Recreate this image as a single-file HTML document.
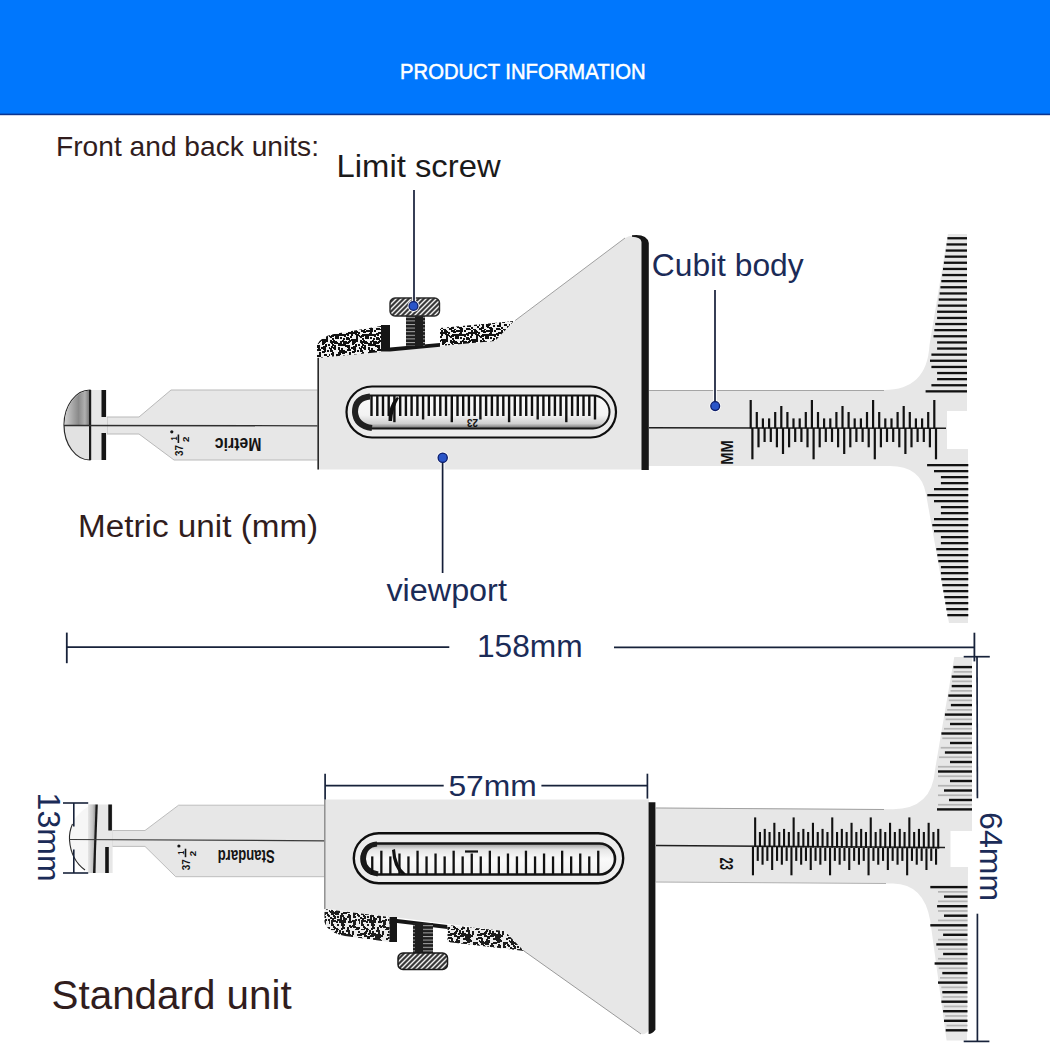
<!DOCTYPE html><html><head><meta charset="utf-8"><title>Product Information</title><style>html,body{margin:0;padding:0;background:#fff;width:1050px;height:1050px;overflow:hidden}svg{display:block}text{font-family:"Liberation Sans",sans-serif}</style></head><body>
<svg width="1050" height="1050" viewBox="0 0 1050 1050">
<defs>
<pattern id="knurl" width="30" height="30" patternUnits="userSpaceOnUse"><rect width="30" height="30" fill="#f0f0f0"/><rect x="1" y="0" width="2" height="2" fill="#111"/><rect x="3" y="0" width="2" height="2" fill="#111"/><rect x="6" y="0" width="2" height="2" fill="#111"/><rect x="8" y="0" width="2" height="2" fill="#111"/><rect x="10" y="0" width="2" height="2" fill="#111"/><rect x="11" y="0" width="2" height="2" fill="#111"/><rect x="14" y="0" width="2" height="2" fill="#111"/><rect x="21" y="0" width="2" height="2" fill="#111"/><rect x="24" y="0" width="2" height="2" fill="#111"/><rect x="25" y="0" width="2" height="2" fill="#111"/><rect x="3" y="1" width="2" height="2" fill="#111"/><rect x="4" y="1" width="2" height="2" fill="#111"/><rect x="21" y="1" width="2" height="2" fill="#111"/><rect x="24" y="1" width="2" height="2" fill="#111"/><rect x="26" y="1" width="2" height="2" fill="#111"/><rect x="10" y="2" width="2" height="2" fill="#111"/><rect x="18" y="2" width="2" height="2" fill="#111"/><rect x="20" y="2" width="2" height="2" fill="#111"/><rect x="21" y="2" width="2" height="2" fill="#111"/><rect x="22" y="2" width="2" height="2" fill="#111"/><rect x="24" y="2" width="2" height="2" fill="#111"/><rect x="28" y="2" width="2" height="2" fill="#111"/><rect x="9" y="3" width="2" height="2" fill="#111"/><rect x="10" y="3" width="2" height="2" fill="#111"/><rect x="16" y="3" width="2" height="2" fill="#111"/><rect x="25" y="3" width="2" height="2" fill="#111"/><rect x="2" y="4" width="2" height="2" fill="#111"/><rect x="4" y="4" width="2" height="2" fill="#111"/><rect x="5" y="4" width="2" height="2" fill="#111"/><rect x="7" y="4" width="2" height="2" fill="#111"/><rect x="9" y="4" width="2" height="2" fill="#111"/><rect x="10" y="4" width="2" height="2" fill="#111"/><rect x="11" y="4" width="2" height="2" fill="#111"/><rect x="12" y="4" width="2" height="2" fill="#111"/><rect x="14" y="4" width="2" height="2" fill="#111"/><rect x="17" y="4" width="2" height="2" fill="#111"/><rect x="21" y="4" width="2" height="2" fill="#111"/><rect x="26" y="4" width="2" height="2" fill="#111"/><rect x="27" y="4" width="2" height="2" fill="#111"/><rect x="1" y="5" width="2" height="2" fill="#111"/><rect x="2" y="5" width="2" height="2" fill="#111"/><rect x="5" y="5" width="2" height="2" fill="#111"/><rect x="7" y="5" width="2" height="2" fill="#111"/><rect x="14" y="5" width="2" height="2" fill="#111"/><rect x="29" y="5" width="2" height="2" fill="#111"/><rect x="0" y="6" width="2" height="2" fill="#111"/><rect x="20" y="6" width="2" height="2" fill="#111"/><rect x="26" y="6" width="2" height="2" fill="#111"/><rect x="5" y="7" width="2" height="2" fill="#111"/><rect x="6" y="7" width="2" height="2" fill="#111"/><rect x="7" y="7" width="2" height="2" fill="#111"/><rect x="10" y="7" width="2" height="2" fill="#111"/><rect x="16" y="7" width="2" height="2" fill="#111"/><rect x="17" y="7" width="2" height="2" fill="#111"/><rect x="2" y="8" width="2" height="2" fill="#111"/><rect x="13" y="8" width="2" height="2" fill="#111"/><rect x="16" y="8" width="2" height="2" fill="#111"/><rect x="18" y="8" width="2" height="2" fill="#111"/><rect x="26" y="8" width="2" height="2" fill="#111"/><rect x="21" y="9" width="2" height="2" fill="#111"/><rect x="22" y="9" width="2" height="2" fill="#111"/><rect x="24" y="9" width="2" height="2" fill="#111"/><rect x="26" y="9" width="2" height="2" fill="#111"/><rect x="0" y="10" width="2" height="2" fill="#111"/><rect x="3" y="10" width="2" height="2" fill="#111"/><rect x="12" y="10" width="2" height="2" fill="#111"/><rect x="19" y="10" width="2" height="2" fill="#111"/><rect x="22" y="10" width="2" height="2" fill="#111"/><rect x="26" y="10" width="2" height="2" fill="#111"/><rect x="0" y="11" width="2" height="2" fill="#111"/><rect x="2" y="11" width="2" height="2" fill="#111"/><rect x="5" y="11" width="2" height="2" fill="#111"/><rect x="10" y="11" width="2" height="2" fill="#111"/><rect x="14" y="11" width="2" height="2" fill="#111"/><rect x="15" y="11" width="2" height="2" fill="#111"/><rect x="18" y="11" width="2" height="2" fill="#111"/><rect x="22" y="11" width="2" height="2" fill="#111"/><rect x="24" y="11" width="2" height="2" fill="#111"/><rect x="1" y="12" width="2" height="2" fill="#111"/><rect x="4" y="12" width="2" height="2" fill="#111"/><rect x="5" y="12" width="2" height="2" fill="#111"/><rect x="6" y="12" width="2" height="2" fill="#111"/><rect x="13" y="12" width="2" height="2" fill="#111"/><rect x="15" y="12" width="2" height="2" fill="#111"/><rect x="17" y="12" width="2" height="2" fill="#111"/><rect x="23" y="12" width="2" height="2" fill="#111"/><rect x="8" y="13" width="2" height="2" fill="#111"/><rect x="9" y="13" width="2" height="2" fill="#111"/><rect x="10" y="13" width="2" height="2" fill="#111"/><rect x="13" y="13" width="2" height="2" fill="#111"/><rect x="14" y="13" width="2" height="2" fill="#111"/><rect x="22" y="13" width="2" height="2" fill="#111"/><rect x="2" y="14" width="2" height="2" fill="#111"/><rect x="8" y="14" width="2" height="2" fill="#111"/><rect x="10" y="14" width="2" height="2" fill="#111"/><rect x="12" y="14" width="2" height="2" fill="#111"/><rect x="13" y="14" width="2" height="2" fill="#111"/><rect x="25" y="14" width="2" height="2" fill="#111"/><rect x="28" y="14" width="2" height="2" fill="#111"/><rect x="4" y="15" width="2" height="2" fill="#111"/><rect x="15" y="15" width="2" height="2" fill="#111"/><rect x="16" y="15" width="2" height="2" fill="#111"/><rect x="18" y="15" width="2" height="2" fill="#111"/><rect x="25" y="15" width="2" height="2" fill="#111"/><rect x="1" y="16" width="2" height="2" fill="#111"/><rect x="4" y="16" width="2" height="2" fill="#111"/><rect x="17" y="16" width="2" height="2" fill="#111"/><rect x="18" y="16" width="2" height="2" fill="#111"/><rect x="23" y="16" width="2" height="2" fill="#111"/><rect x="24" y="16" width="2" height="2" fill="#111"/><rect x="3" y="17" width="2" height="2" fill="#111"/><rect x="8" y="17" width="2" height="2" fill="#111"/><rect x="18" y="17" width="2" height="2" fill="#111"/><rect x="21" y="17" width="2" height="2" fill="#111"/><rect x="29" y="17" width="2" height="2" fill="#111"/><rect x="0" y="18" width="2" height="2" fill="#111"/><rect x="4" y="18" width="2" height="2" fill="#111"/><rect x="8" y="18" width="2" height="2" fill="#111"/><rect x="11" y="18" width="2" height="2" fill="#111"/><rect x="23" y="18" width="2" height="2" fill="#111"/><rect x="24" y="18" width="2" height="2" fill="#111"/><rect x="11" y="19" width="2" height="2" fill="#111"/><rect x="17" y="19" width="2" height="2" fill="#111"/><rect x="19" y="19" width="2" height="2" fill="#111"/><rect x="0" y="20" width="2" height="2" fill="#111"/><rect x="1" y="20" width="2" height="2" fill="#111"/><rect x="9" y="20" width="2" height="2" fill="#111"/><rect x="11" y="20" width="2" height="2" fill="#111"/><rect x="13" y="20" width="2" height="2" fill="#111"/><rect x="24" y="20" width="2" height="2" fill="#111"/><rect x="27" y="20" width="2" height="2" fill="#111"/><rect x="9" y="21" width="2" height="2" fill="#111"/><rect x="10" y="21" width="2" height="2" fill="#111"/><rect x="15" y="21" width="2" height="2" fill="#111"/><rect x="22" y="21" width="2" height="2" fill="#111"/><rect x="23" y="21" width="2" height="2" fill="#111"/><rect x="2" y="22" width="2" height="2" fill="#111"/><rect x="8" y="22" width="2" height="2" fill="#111"/><rect x="12" y="22" width="2" height="2" fill="#111"/><rect x="13" y="22" width="2" height="2" fill="#111"/><rect x="19" y="22" width="2" height="2" fill="#111"/><rect x="1" y="23" width="2" height="2" fill="#111"/><rect x="9" y="23" width="2" height="2" fill="#111"/><rect x="2" y="24" width="2" height="2" fill="#111"/><rect x="6" y="24" width="2" height="2" fill="#111"/><rect x="7" y="24" width="2" height="2" fill="#111"/><rect x="8" y="24" width="2" height="2" fill="#111"/><rect x="19" y="24" width="2" height="2" fill="#111"/><rect x="24" y="24" width="2" height="2" fill="#111"/><rect x="25" y="24" width="2" height="2" fill="#111"/><rect x="29" y="24" width="2" height="2" fill="#111"/><rect x="6" y="25" width="2" height="2" fill="#111"/><rect x="13" y="25" width="2" height="2" fill="#111"/><rect x="17" y="25" width="2" height="2" fill="#111"/><rect x="18" y="25" width="2" height="2" fill="#111"/><rect x="19" y="25" width="2" height="2" fill="#111"/><rect x="2" y="26" width="2" height="2" fill="#111"/><rect x="7" y="26" width="2" height="2" fill="#111"/><rect x="27" y="26" width="2" height="2" fill="#111"/><rect x="1" y="27" width="2" height="2" fill="#111"/><rect x="2" y="27" width="2" height="2" fill="#111"/><rect x="9" y="27" width="2" height="2" fill="#111"/><rect x="10" y="27" width="2" height="2" fill="#111"/><rect x="21" y="27" width="2" height="2" fill="#111"/><rect x="0" y="28" width="2" height="2" fill="#111"/><rect x="11" y="28" width="2" height="2" fill="#111"/><rect x="16" y="28" width="2" height="2" fill="#111"/><rect x="18" y="28" width="2" height="2" fill="#111"/><rect x="29" y="28" width="2" height="2" fill="#111"/><rect x="4" y="29" width="2" height="2" fill="#111"/><rect x="10" y="29" width="2" height="2" fill="#111"/><rect x="18" y="29" width="2" height="2" fill="#111"/><rect x="19" y="29" width="2" height="2" fill="#111"/><rect x="23" y="29" width="2" height="2" fill="#111"/><rect x="24" y="29" width="2" height="2" fill="#111"/></pattern>
<pattern id="knurlB" width="30" height="30" patternUnits="userSpaceOnUse"><rect width="30" height="30" fill="#ececec"/><rect x="6" y="0" width="2" height="2" fill="#1c1c1c"/><rect x="9" y="0" width="2" height="2" fill="#1c1c1c"/><rect x="16" y="0" width="2" height="2" fill="#1c1c1c"/><rect x="18" y="0" width="2" height="2" fill="#1c1c1c"/><rect x="5" y="1" width="2" height="2" fill="#1c1c1c"/><rect x="12" y="1" width="2" height="2" fill="#1c1c1c"/><rect x="22" y="1" width="2" height="2" fill="#1c1c1c"/><rect x="28" y="1" width="2" height="2" fill="#1c1c1c"/><rect x="4" y="2" width="2" height="2" fill="#1c1c1c"/><rect x="5" y="2" width="2" height="2" fill="#1c1c1c"/><rect x="9" y="2" width="2" height="2" fill="#1c1c1c"/><rect x="18" y="2" width="2" height="2" fill="#1c1c1c"/><rect x="0" y="3" width="2" height="2" fill="#1c1c1c"/><rect x="2" y="3" width="2" height="2" fill="#1c1c1c"/><rect x="4" y="3" width="2" height="2" fill="#1c1c1c"/><rect x="8" y="3" width="2" height="2" fill="#1c1c1c"/><rect x="11" y="3" width="2" height="2" fill="#1c1c1c"/><rect x="12" y="3" width="2" height="2" fill="#1c1c1c"/><rect x="14" y="3" width="2" height="2" fill="#1c1c1c"/><rect x="18" y="3" width="2" height="2" fill="#1c1c1c"/><rect x="22" y="3" width="2" height="2" fill="#1c1c1c"/><rect x="0" y="4" width="2" height="2" fill="#1c1c1c"/><rect x="14" y="4" width="2" height="2" fill="#1c1c1c"/><rect x="16" y="4" width="2" height="2" fill="#1c1c1c"/><rect x="19" y="4" width="2" height="2" fill="#1c1c1c"/><rect x="27" y="4" width="2" height="2" fill="#1c1c1c"/><rect x="29" y="4" width="2" height="2" fill="#1c1c1c"/><rect x="4" y="5" width="2" height="2" fill="#1c1c1c"/><rect x="5" y="5" width="2" height="2" fill="#1c1c1c"/><rect x="10" y="5" width="2" height="2" fill="#1c1c1c"/><rect x="12" y="5" width="2" height="2" fill="#1c1c1c"/><rect x="17" y="5" width="2" height="2" fill="#1c1c1c"/><rect x="18" y="5" width="2" height="2" fill="#1c1c1c"/><rect x="21" y="5" width="2" height="2" fill="#1c1c1c"/><rect x="7" y="6" width="2" height="2" fill="#1c1c1c"/><rect x="8" y="6" width="2" height="2" fill="#1c1c1c"/><rect x="15" y="6" width="2" height="2" fill="#1c1c1c"/><rect x="16" y="6" width="2" height="2" fill="#1c1c1c"/><rect x="17" y="6" width="2" height="2" fill="#1c1c1c"/><rect x="19" y="6" width="2" height="2" fill="#1c1c1c"/><rect x="0" y="7" width="2" height="2" fill="#1c1c1c"/><rect x="7" y="7" width="2" height="2" fill="#1c1c1c"/><rect x="8" y="7" width="2" height="2" fill="#1c1c1c"/><rect x="28" y="7" width="2" height="2" fill="#1c1c1c"/><rect x="1" y="8" width="2" height="2" fill="#1c1c1c"/><rect x="13" y="8" width="2" height="2" fill="#1c1c1c"/><rect x="15" y="8" width="2" height="2" fill="#1c1c1c"/><rect x="17" y="8" width="2" height="2" fill="#1c1c1c"/><rect x="18" y="8" width="2" height="2" fill="#1c1c1c"/><rect x="26" y="8" width="2" height="2" fill="#1c1c1c"/><rect x="1" y="9" width="2" height="2" fill="#1c1c1c"/><rect x="6" y="9" width="2" height="2" fill="#1c1c1c"/><rect x="16" y="9" width="2" height="2" fill="#1c1c1c"/><rect x="19" y="9" width="2" height="2" fill="#1c1c1c"/><rect x="8" y="10" width="2" height="2" fill="#1c1c1c"/><rect x="18" y="10" width="2" height="2" fill="#1c1c1c"/><rect x="20" y="10" width="2" height="2" fill="#1c1c1c"/><rect x="29" y="10" width="2" height="2" fill="#1c1c1c"/><rect x="0" y="11" width="2" height="2" fill="#1c1c1c"/><rect x="1" y="11" width="2" height="2" fill="#1c1c1c"/><rect x="2" y="11" width="2" height="2" fill="#1c1c1c"/><rect x="5" y="11" width="2" height="2" fill="#1c1c1c"/><rect x="6" y="11" width="2" height="2" fill="#1c1c1c"/><rect x="8" y="11" width="2" height="2" fill="#1c1c1c"/><rect x="17" y="11" width="2" height="2" fill="#1c1c1c"/><rect x="18" y="11" width="2" height="2" fill="#1c1c1c"/><rect x="4" y="12" width="2" height="2" fill="#1c1c1c"/><rect x="6" y="12" width="2" height="2" fill="#1c1c1c"/><rect x="13" y="12" width="2" height="2" fill="#1c1c1c"/><rect x="15" y="12" width="2" height="2" fill="#1c1c1c"/><rect x="23" y="12" width="2" height="2" fill="#1c1c1c"/><rect x="25" y="12" width="2" height="2" fill="#1c1c1c"/><rect x="26" y="12" width="2" height="2" fill="#1c1c1c"/><rect x="1" y="13" width="2" height="2" fill="#1c1c1c"/><rect x="2" y="13" width="2" height="2" fill="#1c1c1c"/><rect x="5" y="13" width="2" height="2" fill="#1c1c1c"/><rect x="7" y="13" width="2" height="2" fill="#1c1c1c"/><rect x="11" y="13" width="2" height="2" fill="#1c1c1c"/><rect x="24" y="13" width="2" height="2" fill="#1c1c1c"/><rect x="18" y="14" width="2" height="2" fill="#1c1c1c"/><rect x="23" y="14" width="2" height="2" fill="#1c1c1c"/><rect x="27" y="14" width="2" height="2" fill="#1c1c1c"/><rect x="3" y="15" width="2" height="2" fill="#1c1c1c"/><rect x="10" y="15" width="2" height="2" fill="#1c1c1c"/><rect x="12" y="15" width="2" height="2" fill="#1c1c1c"/><rect x="19" y="15" width="2" height="2" fill="#1c1c1c"/><rect x="23" y="15" width="2" height="2" fill="#1c1c1c"/><rect x="28" y="15" width="2" height="2" fill="#1c1c1c"/><rect x="4" y="16" width="2" height="2" fill="#1c1c1c"/><rect x="7" y="16" width="2" height="2" fill="#1c1c1c"/><rect x="17" y="16" width="2" height="2" fill="#1c1c1c"/><rect x="19" y="16" width="2" height="2" fill="#1c1c1c"/><rect x="23" y="16" width="2" height="2" fill="#1c1c1c"/><rect x="24" y="16" width="2" height="2" fill="#1c1c1c"/><rect x="0" y="17" width="2" height="2" fill="#1c1c1c"/><rect x="4" y="17" width="2" height="2" fill="#1c1c1c"/><rect x="10" y="17" width="2" height="2" fill="#1c1c1c"/><rect x="13" y="17" width="2" height="2" fill="#1c1c1c"/><rect x="19" y="17" width="2" height="2" fill="#1c1c1c"/><rect x="2" y="18" width="2" height="2" fill="#1c1c1c"/><rect x="10" y="18" width="2" height="2" fill="#1c1c1c"/><rect x="13" y="18" width="2" height="2" fill="#1c1c1c"/><rect x="15" y="18" width="2" height="2" fill="#1c1c1c"/><rect x="7" y="19" width="2" height="2" fill="#1c1c1c"/><rect x="9" y="19" width="2" height="2" fill="#1c1c1c"/><rect x="19" y="19" width="2" height="2" fill="#1c1c1c"/><rect x="25" y="19" width="2" height="2" fill="#1c1c1c"/><rect x="28" y="19" width="2" height="2" fill="#1c1c1c"/><rect x="1" y="20" width="2" height="2" fill="#1c1c1c"/><rect x="3" y="20" width="2" height="2" fill="#1c1c1c"/><rect x="4" y="20" width="2" height="2" fill="#1c1c1c"/><rect x="11" y="20" width="2" height="2" fill="#1c1c1c"/><rect x="13" y="20" width="2" height="2" fill="#1c1c1c"/><rect x="14" y="20" width="2" height="2" fill="#1c1c1c"/><rect x="22" y="20" width="2" height="2" fill="#1c1c1c"/><rect x="24" y="20" width="2" height="2" fill="#1c1c1c"/><rect x="1" y="21" width="2" height="2" fill="#1c1c1c"/><rect x="6" y="21" width="2" height="2" fill="#1c1c1c"/><rect x="9" y="21" width="2" height="2" fill="#1c1c1c"/><rect x="14" y="21" width="2" height="2" fill="#1c1c1c"/><rect x="18" y="21" width="2" height="2" fill="#1c1c1c"/><rect x="20" y="21" width="2" height="2" fill="#1c1c1c"/><rect x="23" y="21" width="2" height="2" fill="#1c1c1c"/><rect x="24" y="21" width="2" height="2" fill="#1c1c1c"/><rect x="29" y="21" width="2" height="2" fill="#1c1c1c"/><rect x="11" y="22" width="2" height="2" fill="#1c1c1c"/><rect x="12" y="22" width="2" height="2" fill="#1c1c1c"/><rect x="23" y="22" width="2" height="2" fill="#1c1c1c"/><rect x="29" y="22" width="2" height="2" fill="#1c1c1c"/><rect x="1" y="23" width="2" height="2" fill="#1c1c1c"/><rect x="23" y="23" width="2" height="2" fill="#1c1c1c"/><rect x="24" y="23" width="2" height="2" fill="#1c1c1c"/><rect x="1" y="24" width="2" height="2" fill="#1c1c1c"/><rect x="2" y="24" width="2" height="2" fill="#1c1c1c"/><rect x="7" y="24" width="2" height="2" fill="#1c1c1c"/><rect x="11" y="24" width="2" height="2" fill="#1c1c1c"/><rect x="13" y="24" width="2" height="2" fill="#1c1c1c"/><rect x="23" y="24" width="2" height="2" fill="#1c1c1c"/><rect x="19" y="25" width="2" height="2" fill="#1c1c1c"/><rect x="22" y="25" width="2" height="2" fill="#1c1c1c"/><rect x="3" y="26" width="2" height="2" fill="#1c1c1c"/><rect x="12" y="26" width="2" height="2" fill="#1c1c1c"/><rect x="20" y="26" width="2" height="2" fill="#1c1c1c"/><rect x="23" y="26" width="2" height="2" fill="#1c1c1c"/><rect x="24" y="26" width="2" height="2" fill="#1c1c1c"/><rect x="4" y="27" width="2" height="2" fill="#1c1c1c"/><rect x="12" y="27" width="2" height="2" fill="#1c1c1c"/><rect x="13" y="27" width="2" height="2" fill="#1c1c1c"/><rect x="17" y="27" width="2" height="2" fill="#1c1c1c"/><rect x="26" y="27" width="2" height="2" fill="#1c1c1c"/><rect x="28" y="27" width="2" height="2" fill="#1c1c1c"/><rect x="6" y="28" width="2" height="2" fill="#1c1c1c"/><rect x="11" y="28" width="2" height="2" fill="#1c1c1c"/><rect x="17" y="28" width="2" height="2" fill="#1c1c1c"/><rect x="27" y="28" width="2" height="2" fill="#1c1c1c"/><rect x="1" y="29" width="2" height="2" fill="#1c1c1c"/><rect x="3" y="29" width="2" height="2" fill="#1c1c1c"/><rect x="7" y="29" width="2" height="2" fill="#1c1c1c"/><rect x="25" y="29" width="2" height="2" fill="#1c1c1c"/><rect x="26" y="29" width="2" height="2" fill="#1c1c1c"/></pattern>
<pattern id="knurl2" width="5" height="5" patternUnits="userSpaceOnUse"><rect width="5" height="5" fill="#3a3a3a"/><path d="M0 5L5 0M-1 1L1 -1M4 6L6 4" stroke="#f0f0f0" stroke-width="1.4"/></pattern>
<linearGradient id="slotg2" x1="0" y1="0" x2="0" y2="1"><stop offset="0" stop-color="#9a9a9a"/><stop offset="0.2" stop-color="#e6e6e6"/><stop offset="0.5" stop-color="#fafafa"/><stop offset="1" stop-color="#f0f0f0"/></linearGradient>
<linearGradient id="slotg" x1="0" y1="0" x2="0" y2="1"><stop offset="0" stop-color="#fbfbfb"/><stop offset="0.6" stop-color="#f2f2f2"/><stop offset="0.85" stop-color="#d0d0d0"/><stop offset="1" stop-color="#6a6a6a"/></linearGradient>
<pattern id="thread" width="20" height="3.6" patternUnits="userSpaceOnUse"><rect width="20" height="3.6" fill="#1e1e1e"/><rect x="3" y="0" width="12" height="1" fill="#a8a8a8"/></pattern>
<linearGradient id="headg" x1="0" y1="0" x2="1" y2="0"><stop offset="0" stop-color="#e6e6e6"/><stop offset="0.6" stop-color="#c4c4c4"/><stop offset="1" stop-color="#8a8a8a"/></linearGradient>
<linearGradient id="ballup" x1="0" y1="0" x2="1" y2="0"><stop offset="0" stop-color="#d0d0d0"/><stop offset="0.55" stop-color="#8a8a8a"/><stop offset="0.8" stop-color="#b0b0b0"/><stop offset="1" stop-color="#707070"/></linearGradient>
<linearGradient id="ball" x1="0" y1="0" x2="1" y2="1"><stop offset="0" stop-color="#8a8a8a"/><stop offset="0.5" stop-color="#d6d6d6"/><stop offset="1" stop-color="#e8e8e8"/></linearGradient>
</defs>
<rect width="1050" height="1050" fill="#ffffff"/>
<rect x="0" y="0" width="1050" height="114" fill="#0077fd"/>
<rect x="0" y="113.6" width="1050" height="1.6" fill="#0a3590"/>
<text x="400" y="78.6" font-size="22" fill="#ffffff" font-weight="normal" textLength="245.6" lengthAdjust="spacingAndGlyphs" stroke="#ffffff" stroke-width="0.55">PRODUCT INFORMATION</text>
<text x="56" y="156.2" font-size="28" fill="#311d1d" font-weight="normal" textLength="263" lengthAdjust="spacingAndGlyphs" >Front and back units:</text>
<text x="336.6" y="176.9" font-size="32" fill="#1a1a1a" font-weight="normal" textLength="164" lengthAdjust="spacingAndGlyphs" >Limit screw</text>
<text x="651.8" y="276" font-size="31" fill="#1b2b57" font-weight="normal" textLength="151.8" lengthAdjust="spacingAndGlyphs" >Cubit body</text>
<text x="78.1" y="536.6" font-size="31" fill="#311d1d" font-weight="normal" textLength="240.1" lengthAdjust="spacingAndGlyphs" >Metric unit (mm)</text>
<text x="386.4" y="601.2" font-size="31" fill="#1b2b57" font-weight="normal" textLength="120.5" lengthAdjust="spacingAndGlyphs" >viewport</text>
<text x="476.9" y="656.8" font-size="31" fill="#1b2b57" font-weight="normal" textLength="105.7" lengthAdjust="spacingAndGlyphs" >158mm</text>
<text x="448.4" y="795.5" font-size="30" fill="#1b2b57" font-weight="normal" textLength="88.4" lengthAdjust="spacingAndGlyphs" >57mm</text>
<text x="51.6" y="1009.2" font-size="40" fill="#311d1d" font-weight="normal" textLength="240.1" lengthAdjust="spacingAndGlyphs" >Standard unit</text>
<path d="M107,417 L139,417 L171,390 L318,390 L318,460 L174,460 L139,434 L107,434 Z" fill="#e7e7e7" stroke="#b9b9b9" stroke-width="1"/>
<path d="M90,390 A26,35 0 0 0 90,460 Z" fill="#e2e2e2" stroke="#2a2a2a" stroke-width="1.2"/>
<path d="M90,390.5 A26,35 0 0 0 64.5,425 L90,425 Z" fill="url(#ballup)"/>
<rect x="90" y="390" width="17" height="70" fill="#e7e7e7"/>
<rect x="89" y="390" width="2.2" height="70" fill="#1a1a1a"/>
<rect x="101.5" y="390" width="4.5" height="27" fill="#151515"/>
<rect x="101.5" y="433" width="4.5" height="27" fill="#151515"/>
<line x1="64" y1="425.5" x2="318" y2="425.8" stroke="#2e2e2e" stroke-width="1.3"/>
<text transform="translate(261.4,437.6) rotate(180)" font-size="19" font-weight="bold" fill="#141414" textLength="46.6" lengthAdjust="spacingAndGlyphs" y="0">Metric</text>
<g transform="translate(0,0)" fill="#141414" font-weight="bold">
<text transform="translate(183.2,456) rotate(-90)" font-size="11.5" textLength="11" lengthAdjust="spacingAndGlyphs">37</text>
<text transform="translate(177.2,440.6) rotate(-90)" font-size="9" textLength="4" lengthAdjust="spacingAndGlyphs">1</text>
<rect x="177.6" y="434.5" width="1.6" height="8.5"/>
<text transform="translate(189.3,442) rotate(-90)" font-size="9" textLength="5.5" lengthAdjust="spacingAndGlyphs">2</text>
<circle cx="171.8" cy="431.8" r="1.6"/>
</g>
<path d="M640,390 L884,390 Q927,390 929.5,345 L948,234 L967,234 L967,411 L947,411 L947,449 L968,449 L968,623 L949,623 L926,494 Q921,466 890,466 L640,466 Z" fill="#e7e7e7"/>
<line x1="649" y1="390.5" x2="884" y2="390.5" stroke="#a5a5a5" stroke-width="1"/>
<line x1="649" y1="427.8" x2="946" y2="428.3" stroke="#1e1e1e" stroke-width="1.5"/>
<rect x="925.6" y="390.2" width="41.4" height="2.3" fill="#111"/>
<rect x="931.4" y="384.1" width="35.6" height="2.3" fill="#111"/>
<rect x="937.1" y="378.0" width="29.9" height="2.3" fill="#111"/>
<rect x="937.1" y="371.9" width="29.9" height="2.3" fill="#111"/>
<rect x="931.4" y="365.8" width="35.6" height="2.3" fill="#111"/>
<rect x="930.0" y="359.6" width="37.0" height="2.3" fill="#111"/>
<rect x="931.4" y="353.5" width="35.6" height="2.3" fill="#111"/>
<rect x="937.1" y="347.4" width="29.9" height="2.3" fill="#111"/>
<rect x="937.1" y="341.3" width="29.9" height="2.3" fill="#111"/>
<rect x="933.5" y="335.1" width="33.5" height="2.3" fill="#111"/>
<rect x="934.3" y="329.0" width="32.7" height="2.3" fill="#111"/>
<rect x="935.2" y="322.9" width="31.8" height="2.3" fill="#111"/>
<rect x="937.1" y="316.8" width="29.9" height="2.3" fill="#111"/>
<rect x="937.1" y="310.6" width="29.9" height="2.3" fill="#111"/>
<rect x="937.8" y="304.5" width="29.2" height="2.3" fill="#111"/>
<rect x="938.7" y="298.4" width="28.3" height="2.3" fill="#111"/>
<rect x="939.6" y="292.3" width="27.4" height="2.3" fill="#111"/>
<rect x="940.4" y="286.1" width="26.6" height="2.3" fill="#111"/>
<rect x="941.3" y="280.0" width="25.7" height="2.3" fill="#111"/>
<rect x="942.2" y="273.9" width="24.8" height="2.3" fill="#111"/>
<rect x="943.0" y="267.8" width="24.0" height="2.3" fill="#111"/>
<rect x="943.9" y="261.6" width="23.1" height="2.3" fill="#111"/>
<rect x="944.8" y="255.5" width="22.2" height="2.3" fill="#111"/>
<rect x="945.7" y="249.4" width="21.3" height="2.3" fill="#111"/>
<rect x="946.5" y="243.3" width="20.5" height="2.3" fill="#111"/>
<rect x="947.4" y="237.1" width="19.6" height="2.3" fill="#111"/>
<rect x="927.1" y="464.0" width="41.2" height="2.3" fill="#111"/>
<rect x="934.0" y="470.0" width="34.3" height="2.3" fill="#111"/>
<rect x="940.9" y="476.0" width="27.4" height="2.3" fill="#111"/>
<rect x="940.9" y="482.0" width="27.4" height="2.3" fill="#111"/>
<rect x="934.0" y="488.0" width="34.3" height="2.3" fill="#111"/>
<rect x="927.3" y="494.0" width="41.0" height="2.3" fill="#111"/>
<rect x="934.0" y="500.0" width="34.3" height="2.3" fill="#111"/>
<rect x="940.9" y="506.0" width="27.4" height="2.3" fill="#111"/>
<rect x="940.9" y="512.0" width="27.4" height="2.3" fill="#111"/>
<rect x="934.0" y="518.0" width="34.3" height="2.3" fill="#111"/>
<rect x="932.3" y="524.0" width="36.0" height="2.3" fill="#111"/>
<rect x="934.0" y="530.0" width="34.3" height="2.3" fill="#111"/>
<rect x="940.9" y="536.0" width="27.4" height="2.3" fill="#111"/>
<rect x="940.9" y="542.0" width="27.4" height="2.3" fill="#111"/>
<rect x="936.3" y="548.0" width="32.0" height="2.3" fill="#111"/>
<rect x="937.3" y="554.0" width="31.0" height="2.3" fill="#111"/>
<rect x="938.3" y="560.0" width="30.0" height="2.3" fill="#111"/>
<rect x="940.9" y="566.0" width="27.4" height="2.3" fill="#111"/>
<rect x="940.9" y="572.0" width="27.4" height="2.3" fill="#111"/>
<rect x="941.3" y="578.0" width="27.0" height="2.3" fill="#111"/>
<rect x="942.3" y="584.0" width="26.0" height="2.3" fill="#111"/>
<rect x="943.3" y="590.0" width="25.0" height="2.3" fill="#111"/>
<rect x="944.3" y="596.0" width="24.0" height="2.3" fill="#111"/>
<rect x="945.3" y="602.0" width="23.0" height="2.3" fill="#111"/>
<rect x="946.3" y="608.0" width="22.0" height="2.3" fill="#111"/>
<rect x="947.3" y="614.0" width="21.0" height="2.3" fill="#111"/>
<rect x="749.6" y="400" width="2.2" height="28.3" fill="#111"/>
<rect x="751.3" y="428" width="2.2" height="31.3" fill="#111"/>
<rect x="755.7" y="412" width="2.2" height="16.3" fill="#111"/>
<rect x="757.4" y="428" width="2.2" height="19.3" fill="#111"/>
<rect x="761.8" y="418.4" width="2.2" height="9.9" fill="#111"/>
<rect x="763.5" y="428" width="2.2" height="14.0" fill="#111"/>
<rect x="768.0" y="418.4" width="2.2" height="9.9" fill="#111"/>
<rect x="769.7" y="428" width="2.2" height="14.0" fill="#111"/>
<rect x="774.1" y="412" width="2.2" height="16.3" fill="#111"/>
<rect x="775.8" y="428" width="2.2" height="19.3" fill="#111"/>
<rect x="780.2" y="406" width="2.2" height="22.3" fill="#111"/>
<rect x="781.9" y="428" width="2.2" height="26.0" fill="#111"/>
<rect x="786.3" y="412" width="2.2" height="16.3" fill="#111"/>
<rect x="788.0" y="428" width="2.2" height="19.3" fill="#111"/>
<rect x="792.4" y="418.4" width="2.2" height="9.9" fill="#111"/>
<rect x="794.1" y="428" width="2.2" height="14.0" fill="#111"/>
<rect x="798.6" y="418.4" width="2.2" height="9.9" fill="#111"/>
<rect x="800.3" y="428" width="2.2" height="14.0" fill="#111"/>
<rect x="804.7" y="412" width="2.2" height="16.3" fill="#111"/>
<rect x="806.4" y="428" width="2.2" height="19.3" fill="#111"/>
<rect x="810.8" y="400" width="2.2" height="28.3" fill="#111"/>
<rect x="812.5" y="428" width="2.2" height="31.3" fill="#111"/>
<rect x="816.9" y="412" width="2.2" height="16.3" fill="#111"/>
<rect x="818.6" y="428" width="2.2" height="19.3" fill="#111"/>
<rect x="823.0" y="418.4" width="2.2" height="9.9" fill="#111"/>
<rect x="824.7" y="428" width="2.2" height="14.0" fill="#111"/>
<rect x="829.2" y="418.4" width="2.2" height="9.9" fill="#111"/>
<rect x="830.9" y="428" width="2.2" height="14.0" fill="#111"/>
<rect x="835.3" y="412" width="2.2" height="16.3" fill="#111"/>
<rect x="837.0" y="428" width="2.2" height="19.3" fill="#111"/>
<rect x="841.4" y="406" width="2.2" height="22.3" fill="#111"/>
<rect x="843.1" y="428" width="2.2" height="26.0" fill="#111"/>
<rect x="847.5" y="412" width="2.2" height="16.3" fill="#111"/>
<rect x="849.2" y="428" width="2.2" height="19.3" fill="#111"/>
<rect x="853.6" y="418.4" width="2.2" height="9.9" fill="#111"/>
<rect x="855.3" y="428" width="2.2" height="14.0" fill="#111"/>
<rect x="859.8" y="418.4" width="2.2" height="9.9" fill="#111"/>
<rect x="861.5" y="428" width="2.2" height="14.0" fill="#111"/>
<rect x="865.9" y="412" width="2.2" height="16.3" fill="#111"/>
<rect x="867.6" y="428" width="2.2" height="19.3" fill="#111"/>
<rect x="872.0" y="400" width="2.2" height="28.3" fill="#111"/>
<rect x="873.7" y="428" width="2.2" height="31.3" fill="#111"/>
<rect x="878.1" y="412" width="2.2" height="16.3" fill="#111"/>
<rect x="879.8" y="428" width="2.2" height="19.3" fill="#111"/>
<rect x="884.2" y="418.4" width="2.2" height="9.9" fill="#111"/>
<rect x="885.9" y="428" width="2.2" height="14.0" fill="#111"/>
<rect x="890.4" y="418.4" width="2.2" height="9.9" fill="#111"/>
<rect x="892.1" y="428" width="2.2" height="14.0" fill="#111"/>
<rect x="896.5" y="412" width="2.2" height="16.3" fill="#111"/>
<rect x="898.2" y="428" width="2.2" height="19.3" fill="#111"/>
<rect x="902.6" y="406" width="2.2" height="22.3" fill="#111"/>
<rect x="904.3" y="428" width="2.2" height="26.0" fill="#111"/>
<rect x="908.7" y="412" width="2.2" height="16.3" fill="#111"/>
<rect x="910.4" y="428" width="2.2" height="19.3" fill="#111"/>
<rect x="914.8" y="418.4" width="2.2" height="9.9" fill="#111"/>
<rect x="916.5" y="428" width="2.2" height="14.0" fill="#111"/>
<rect x="921.0" y="418.4" width="2.2" height="9.9" fill="#111"/>
<rect x="922.7" y="428" width="2.2" height="14.0" fill="#111"/>
<rect x="927.1" y="412" width="2.2" height="16.3" fill="#111"/>
<rect x="928.8" y="428" width="2.2" height="19.3" fill="#111"/>
<rect x="933.2" y="400" width="2.2" height="28.3" fill="#111"/>
<rect x="934.9" y="428" width="2.2" height="31.3" fill="#111"/>
<text transform="translate(733.3,464.8) rotate(-90)" font-size="16" font-weight="bold" fill="#141414" textLength="24.5" lengthAdjust="spacingAndGlyphs">MM</text>
<path d="M317.5,358 L495,341 L515.2,320.5 L625,238 Q629,235.3 634,235.5 L642,236 L642,469.5 L317.5,469.5 Z" fill="#e7e7e7"/>
<path d="M515.2,320.5 L625,238" fill="none" stroke="#a0a0a0" stroke-width="1"/>
<line x1="318.2" y1="357" x2="318.2" y2="469.5" stroke="#2a2a2a" stroke-width="1.6"/>
<path d="M632,235.2 Q647,233.5 648.8,243 L648.8,470 L641.5,470 L641.5,242 Q641,237 632,236.8 Z" fill="#161616"/>
<path d="M317,358 L317,345 Q320,337 334,334 L381,326 L381,352 Z" fill="url(#knurl)"/>
<rect x="381" y="325" width="9" height="26.5" fill="#161616"/>
<path d="M390,347.5 L440,343 L440,346.8 L390,351.5 Z" fill="#161616"/>
<rect x="406" y="316" width="19" height="30" fill="url(#thread)"/>
<path d="M440,328 L514,321 L495,341 L440,346 Z" fill="url(#knurl)"/>
<rect x="390" y="298" width="49.5" height="18" rx="5" fill="url(#knurl2)" stroke="#2a2a2a" stroke-width="1.4"/>
<rect x="346.5" y="386.5" width="269.5" height="51" rx="25.5" fill="#ececec" stroke="#0e0e0e" stroke-width="2.2"/>
<rect x="353.5" y="395.5" width="256" height="33" rx="16.5" fill="url(#slotg)" stroke="#151515" stroke-width="2"/>
<path d="M370,396.5 Q355,398 355,412 Q356,426 372,428" fill="none" stroke="#202020" stroke-width="6"/>
<rect x="593.8" y="396" width="2.4" height="23.5" fill="#111"/>
<rect x="588.1" y="396" width="2.4" height="20.0" fill="#111"/>
<rect x="582.3" y="396" width="2.4" height="20.0" fill="#111"/>
<rect x="576.6" y="396" width="2.4" height="20.0" fill="#111"/>
<rect x="570.9" y="396" width="2.4" height="20.0" fill="#111"/>
<rect x="565.1" y="396" width="2.4" height="26.2" fill="#111"/>
<rect x="559.4" y="396" width="2.4" height="20.0" fill="#111"/>
<rect x="553.7" y="396" width="2.4" height="20.0" fill="#111"/>
<rect x="548.0" y="396" width="2.4" height="20.0" fill="#111"/>
<rect x="542.2" y="396" width="2.4" height="20.0" fill="#111"/>
<rect x="536.5" y="396" width="2.4" height="23.5" fill="#111"/>
<rect x="530.8" y="396" width="2.4" height="20.0" fill="#111"/>
<rect x="525.0" y="396" width="2.4" height="20.0" fill="#111"/>
<rect x="519.3" y="396" width="2.4" height="20.0" fill="#111"/>
<rect x="513.6" y="396" width="2.4" height="20.0" fill="#111"/>
<rect x="507.9" y="396" width="2.4" height="26.2" fill="#111"/>
<rect x="502.1" y="396" width="2.4" height="20.0" fill="#111"/>
<rect x="496.4" y="396" width="2.4" height="20.0" fill="#111"/>
<rect x="490.7" y="396" width="2.4" height="20.0" fill="#111"/>
<rect x="484.9" y="396" width="2.4" height="20.0" fill="#111"/>
<rect x="479.2" y="396" width="2.4" height="23.5" fill="#111"/>
<rect x="473.5" y="396" width="2.4" height="20.0" fill="#111"/>
<rect x="467.7" y="396" width="2.4" height="20.0" fill="#111"/>
<rect x="462.0" y="396" width="2.4" height="20.0" fill="#111"/>
<rect x="456.3" y="396" width="2.4" height="20.0" fill="#111"/>
<rect x="450.6" y="396" width="2.4" height="26.2" fill="#111"/>
<rect x="444.8" y="396" width="2.4" height="20.0" fill="#111"/>
<rect x="439.1" y="396" width="2.4" height="20.0" fill="#111"/>
<rect x="433.4" y="396" width="2.4" height="20.0" fill="#111"/>
<rect x="427.6" y="396" width="2.4" height="20.0" fill="#111"/>
<rect x="421.9" y="396" width="2.4" height="23.5" fill="#111"/>
<rect x="416.2" y="396" width="2.4" height="20.0" fill="#111"/>
<rect x="410.4" y="396" width="2.4" height="20.0" fill="#111"/>
<rect x="404.7" y="396" width="2.4" height="20.0" fill="#111"/>
<rect x="399.0" y="396" width="2.4" height="20.0" fill="#111"/>
<rect x="393.2" y="396" width="2.4" height="26.2" fill="#111"/>
<rect x="387.5" y="396" width="2.4" height="20.0" fill="#111"/>
<rect x="381.8" y="396" width="2.4" height="20.0" fill="#111"/>
<rect x="376.1" y="396" width="2.4" height="20.0" fill="#111"/>
<rect x="370.3" y="396" width="2.4" height="20.0" fill="#111"/>
<path d="M388.5,421 Q388,405 397,397 L399,398 Q393,408 392,421 Z" fill="#111"/>
<text transform="translate(478,419) rotate(180)" font-size="10" font-weight="bold" fill="#141414">23</text>
<path d="M112,830.5 L145,830.5 L178.6,805.2 L325,805.2 L325,876.7 L175.7,876.7 L145,846.4 L112,846.4 Z" fill="#e7e7e7" stroke="#bdbdbd" stroke-width="1"/>
<path d="M89,806 Q67,820 69.5,840 Q71,862 88,872 Z" fill="#f6f6f6"/>
<path d="M72.5,824 Q69,832 69.5,840 Q71,860 85,870" fill="none" stroke="#2a2a2a" stroke-width="1.1"/>
<rect x="88" y="804.5" width="24.6" height="68.5" fill="#e7e7e7"/>
<rect x="88" y="804.5" width="8" height="68.5" fill="url(#headg)"/>
<path d="M95.6,804.5 L97.8,804.5 L95.2,873 L93,873 Z" fill="#1a1a1a"/>
<rect x="108.3" y="804.5" width="3.6" height="26" fill="#151515"/>
<rect x="105.2" y="847" width="3.6" height="26" fill="#151515"/>
<line x1="69" y1="839.5" x2="325" y2="840.8" stroke="#3a3a3a" stroke-width="1.2"/>
<text transform="translate(274.8,850) rotate(180)" font-size="17.5" font-weight="bold" fill="#141414" textLength="57.2" lengthAdjust="spacingAndGlyphs">Standard</text>
<g transform="translate(7.1,414.2)" fill="#141414" font-weight="bold">
<text transform="translate(183.2,456) rotate(-90)" font-size="11.5" textLength="11" lengthAdjust="spacingAndGlyphs">37</text>
<text transform="translate(177.2,440.6) rotate(-90)" font-size="9" textLength="4" lengthAdjust="spacingAndGlyphs">1</text>
<rect x="177.6" y="434.5" width="1.6" height="8.5"/>
<text transform="translate(189.3,442) rotate(-90)" font-size="9" textLength="5.5" lengthAdjust="spacingAndGlyphs">2</text>
<circle cx="171.8" cy="431.8" r="1.6"/>
</g>
<path d="M650,807.5 L893,809.2 Q932,809 935,770 L941.4,732 L954.3,657 L972,657 L972,831 L950.5,831 L950.5,867 L968,867 L967,1040.6 L946.6,1040.6 L930.3,921 Q924,884 893,883.6 L650,882.2 Z" fill="#e7e7e7"/>
<line x1="656" y1="808" x2="884" y2="809.5" stroke="#a0a0a0" stroke-width="1"/>
<line x1="656" y1="882" x2="886" y2="883.5" stroke="#b0b0b0" stroke-width="1"/>
<line x1="656" y1="845.6" x2="945" y2="847.6" stroke="#1e1e1e" stroke-width="1.5"/>
<rect x="953.4" y="665.9" width="18.6" height="2.4" fill="#111"/>
<rect x="953.7" y="671.0" width="18.3" height="1.7" fill="#b4b4b4"/>
<rect x="951.7" y="675.4" width="20.3" height="2.4" fill="#111"/>
<rect x="952.1" y="680.5" width="19.9" height="1.7" fill="#b4b4b4"/>
<rect x="951.7" y="684.9" width="20.3" height="2.4" fill="#111"/>
<rect x="950.5" y="690.0" width="21.5" height="1.7" fill="#b4b4b4"/>
<rect x="948.3" y="694.4" width="23.7" height="2.4" fill="#111"/>
<rect x="948.8" y="699.5" width="23.2" height="1.7" fill="#b4b4b4"/>
<rect x="950.9" y="703.9" width="21.1" height="2.4" fill="#111"/>
<rect x="947.2" y="709.0" width="24.8" height="1.7" fill="#b4b4b4"/>
<rect x="944.9" y="713.4" width="27.1" height="2.4" fill="#111"/>
<rect x="945.6" y="718.5" width="26.4" height="1.7" fill="#b4b4b4"/>
<rect x="950.0" y="722.8" width="22.0" height="2.4" fill="#111"/>
<rect x="944.0" y="727.9" width="28.0" height="1.7" fill="#b4b4b4"/>
<rect x="941.4" y="732.3" width="30.6" height="2.4" fill="#111"/>
<rect x="942.3" y="737.4" width="29.7" height="1.7" fill="#b4b4b4"/>
<rect x="950.0" y="741.8" width="22.0" height="2.4" fill="#111"/>
<rect x="940.7" y="746.9" width="31.3" height="1.7" fill="#b4b4b4"/>
<rect x="944.9" y="751.3" width="27.1" height="2.4" fill="#111"/>
<rect x="939.1" y="756.4" width="32.9" height="1.7" fill="#b4b4b4"/>
<rect x="950.0" y="760.8" width="22.0" height="2.4" fill="#111"/>
<rect x="938.0" y="765.9" width="34.0" height="1.7" fill="#b4b4b4"/>
<rect x="938.0" y="770.3" width="34.0" height="2.4" fill="#111"/>
<rect x="938.0" y="775.4" width="34.0" height="1.7" fill="#b4b4b4"/>
<rect x="950.0" y="779.8" width="22.0" height="2.4" fill="#111"/>
<rect x="938.0" y="784.9" width="34.0" height="1.7" fill="#b4b4b4"/>
<rect x="944.0" y="789.3" width="28.0" height="2.4" fill="#111"/>
<rect x="938.0" y="794.4" width="34.0" height="1.7" fill="#b4b4b4"/>
<rect x="949.0" y="798.8" width="23.0" height="2.4" fill="#111"/>
<rect x="938.0" y="803.9" width="34.0" height="1.7" fill="#b4b4b4"/>
<rect x="937.0" y="808.2" width="35.0" height="2.4" fill="#111"/>
<rect x="930.3" y="885.9" width="37.2" height="2.4" fill="#111"/>
<rect x="938.0" y="891.0" width="29.5" height="1.7" fill="#b4b4b4"/>
<rect x="944.0" y="895.4" width="23.5" height="2.4" fill="#111"/>
<rect x="938.0" y="900.5" width="29.5" height="1.7" fill="#b4b4b4"/>
<rect x="937.1" y="905.0" width="30.4" height="2.4" fill="#111"/>
<rect x="938.0" y="910.1" width="29.5" height="1.7" fill="#b4b4b4"/>
<rect x="944.0" y="914.5" width="23.5" height="2.4" fill="#111"/>
<rect x="938.0" y="919.6" width="29.5" height="1.7" fill="#b4b4b4"/>
<rect x="930.3" y="924.1" width="37.2" height="2.4" fill="#111"/>
<rect x="938.0" y="929.2" width="29.5" height="1.7" fill="#b4b4b4"/>
<rect x="943.1" y="933.6" width="24.4" height="2.4" fill="#111"/>
<rect x="938.0" y="938.8" width="29.5" height="1.7" fill="#b4b4b4"/>
<rect x="936.3" y="943.2" width="31.2" height="2.4" fill="#111"/>
<rect x="938.0" y="948.3" width="29.5" height="1.7" fill="#b4b4b4"/>
<rect x="943.1" y="952.8" width="24.4" height="2.4" fill="#111"/>
<rect x="938.0" y="957.9" width="29.5" height="1.7" fill="#b4b4b4"/>
<rect x="934.6" y="962.3" width="32.9" height="2.4" fill="#111"/>
<rect x="938.7" y="967.4" width="28.8" height="1.7" fill="#b4b4b4"/>
<rect x="942.3" y="971.9" width="25.2" height="2.4" fill="#111"/>
<rect x="940.0" y="977.0" width="27.5" height="1.7" fill="#b4b4b4"/>
<rect x="938.0" y="981.4" width="29.5" height="2.4" fill="#111"/>
<rect x="941.3" y="986.5" width="26.2" height="1.7" fill="#b4b4b4"/>
<rect x="942.3" y="991.0" width="25.2" height="2.4" fill="#111"/>
<rect x="942.6" y="996.1" width="24.9" height="1.7" fill="#b4b4b4"/>
<rect x="941.4" y="1000.5" width="26.1" height="2.4" fill="#111"/>
<rect x="943.9" y="1005.6" width="23.6" height="1.7" fill="#b4b4b4"/>
<rect x="943.1" y="1010.0" width="24.4" height="2.4" fill="#111"/>
<rect x="945.2" y="1015.1" width="22.3" height="1.7" fill="#b4b4b4"/>
<rect x="944.0" y="1019.6" width="23.5" height="2.4" fill="#111"/>
<rect x="946.5" y="1024.7" width="21.0" height="1.7" fill="#b4b4b4"/>
<rect x="945.7" y="1029.1" width="21.8" height="2.4" fill="#111"/>
<rect x="754.1" y="817.4" width="2.1" height="29.7" fill="#111"/>
<rect x="751.9" y="846.8" width="2.1" height="28.5" fill="#111"/>
<rect x="758.9" y="832" width="2.1" height="15.1" fill="#111"/>
<rect x="756.7" y="846.8" width="2.1" height="14.1" fill="#111"/>
<rect x="763.7" y="828.9" width="2.1" height="18.3" fill="#111"/>
<rect x="761.5" y="846.9" width="2.1" height="17.8" fill="#111"/>
<rect x="768.5" y="832" width="2.1" height="15.2" fill="#111"/>
<rect x="766.3" y="846.9" width="2.1" height="14.0" fill="#111"/>
<rect x="773.3" y="822.8" width="2.1" height="24.4" fill="#111"/>
<rect x="771.1" y="846.9" width="2.1" height="23.1" fill="#111"/>
<rect x="778.2" y="832" width="2.1" height="15.3" fill="#111"/>
<rect x="776.0" y="847.0" width="2.1" height="13.9" fill="#111"/>
<rect x="783.0" y="828.9" width="2.1" height="18.4" fill="#111"/>
<rect x="780.8" y="847.0" width="2.1" height="17.7" fill="#111"/>
<rect x="787.8" y="832" width="2.1" height="15.4" fill="#111"/>
<rect x="785.6" y="847.1" width="2.1" height="13.8" fill="#111"/>
<rect x="792.6" y="817.4" width="2.1" height="30.0" fill="#111"/>
<rect x="790.4" y="847.1" width="2.1" height="28.2" fill="#111"/>
<rect x="797.4" y="832" width="2.1" height="15.4" fill="#111"/>
<rect x="795.2" y="847.1" width="2.1" height="13.8" fill="#111"/>
<rect x="802.3" y="828.9" width="2.1" height="18.6" fill="#111"/>
<rect x="800.1" y="847.2" width="2.1" height="17.5" fill="#111"/>
<rect x="807.1" y="832" width="2.1" height="15.5" fill="#111"/>
<rect x="804.9" y="847.2" width="2.1" height="13.7" fill="#111"/>
<rect x="811.9" y="822.8" width="2.1" height="24.8" fill="#111"/>
<rect x="809.7" y="847.3" width="2.1" height="22.7" fill="#111"/>
<rect x="816.7" y="832" width="2.1" height="15.6" fill="#111"/>
<rect x="814.5" y="847.3" width="2.1" height="13.6" fill="#111"/>
<rect x="821.5" y="828.9" width="2.1" height="18.7" fill="#111"/>
<rect x="819.3" y="847.3" width="2.1" height="17.4" fill="#111"/>
<rect x="826.4" y="832" width="2.1" height="15.7" fill="#111"/>
<rect x="824.2" y="847.4" width="2.1" height="13.5" fill="#111"/>
<rect x="831.2" y="817.4" width="2.1" height="30.3" fill="#111"/>
<rect x="829.0" y="847.4" width="2.1" height="27.9" fill="#111"/>
<rect x="836.0" y="832" width="2.1" height="15.7" fill="#111"/>
<rect x="833.8" y="847.4" width="2.1" height="13.5" fill="#111"/>
<rect x="840.8" y="828.9" width="2.1" height="18.9" fill="#111"/>
<rect x="838.6" y="847.5" width="2.1" height="17.2" fill="#111"/>
<rect x="845.6" y="832" width="2.1" height="15.8" fill="#111"/>
<rect x="843.4" y="847.5" width="2.1" height="13.4" fill="#111"/>
<rect x="850.5" y="822.8" width="2.1" height="25.1" fill="#111"/>
<rect x="848.2" y="847.6" width="2.1" height="22.4" fill="#111"/>
<rect x="855.3" y="832" width="2.1" height="15.9" fill="#111"/>
<rect x="853.1" y="847.6" width="2.1" height="13.3" fill="#111"/>
<rect x="860.1" y="828.9" width="2.1" height="19.0" fill="#111"/>
<rect x="857.9" y="847.6" width="2.1" height="17.1" fill="#111"/>
<rect x="864.9" y="832" width="2.1" height="16.0" fill="#111"/>
<rect x="862.7" y="847.7" width="2.1" height="13.2" fill="#111"/>
<rect x="869.7" y="817.4" width="2.1" height="30.6" fill="#111"/>
<rect x="867.5" y="847.7" width="2.1" height="27.6" fill="#111"/>
<rect x="874.6" y="832" width="2.1" height="16.1" fill="#111"/>
<rect x="872.4" y="847.8" width="2.1" height="13.1" fill="#111"/>
<rect x="879.4" y="828.9" width="2.1" height="19.2" fill="#111"/>
<rect x="877.2" y="847.8" width="2.1" height="16.9" fill="#111"/>
<rect x="884.2" y="832" width="2.1" height="16.1" fill="#111"/>
<rect x="882.0" y="847.8" width="2.1" height="13.1" fill="#111"/>
<rect x="889.0" y="822.8" width="2.1" height="25.4" fill="#111"/>
<rect x="886.8" y="847.9" width="2.1" height="22.1" fill="#111"/>
<rect x="893.8" y="832" width="2.1" height="16.2" fill="#111"/>
<rect x="891.6" y="847.9" width="2.1" height="13.0" fill="#111"/>
<rect x="898.7" y="828.9" width="2.1" height="19.3" fill="#111"/>
<rect x="896.5" y="847.9" width="2.1" height="16.8" fill="#111"/>
<rect x="903.5" y="832" width="2.1" height="16.3" fill="#111"/>
<rect x="901.3" y="848.0" width="2.1" height="12.9" fill="#111"/>
<rect x="908.3" y="817.4" width="2.1" height="30.9" fill="#111"/>
<rect x="906.1" y="848.0" width="2.1" height="27.3" fill="#111"/>
<rect x="913.1" y="832" width="2.1" height="16.4" fill="#111"/>
<rect x="910.9" y="848.1" width="2.1" height="12.8" fill="#111"/>
<rect x="917.9" y="828.9" width="2.1" height="19.5" fill="#111"/>
<rect x="915.7" y="848.1" width="2.1" height="16.6" fill="#111"/>
<rect x="922.8" y="832" width="2.1" height="16.4" fill="#111"/>
<rect x="920.6" y="848.1" width="2.1" height="12.8" fill="#111"/>
<rect x="927.6" y="822.8" width="2.1" height="25.7" fill="#111"/>
<rect x="925.4" y="848.2" width="2.1" height="21.8" fill="#111"/>
<rect x="932.4" y="832" width="2.1" height="16.5" fill="#111"/>
<rect x="930.2" y="848.2" width="2.1" height="12.7" fill="#111"/>
<rect x="937.2" y="828.9" width="2.1" height="19.7" fill="#111"/>
<rect x="935.0" y="848.3" width="2.1" height="16.4" fill="#111"/>
<text transform="translate(720.3,857.4) rotate(90)" font-size="19" font-weight="bold" fill="#141414" textLength="12.5" lengthAdjust="spacingAndGlyphs">23</text>
<path d="M324.5,799.5 L649,799.5 L649,1030 Q646,1035 641,1034 L524,951 L504.6,931 L324.5,908.5 Z" fill="#e7e7e7"/>
<path d="M524,951 L641,1034" fill="none" stroke="#9a9a9a" stroke-width="1"/>
<line x1="324.8" y1="799.5" x2="324.8" y2="909" stroke="#8a8a8a" stroke-width="1.4"/>
<path d="M648.6,802.3 L655.4,802.3 L655.4,1029.7 Q652,1034 648.6,1034 Z" fill="#161616"/>
<path d="M324.5,909 L389.6,917 L389.6,942 L345,936 Q327,932 324.5,922 Z" fill="url(#knurlB)"/>
<rect x="389.6" y="917" width="7.4" height="25" fill="#161616"/>
<path d="M397,919 L447.5,925 L447.5,929 L397,923 Z" fill="#161616"/>
<rect x="413" y="923" width="20" height="30" fill="url(#thread)"/>
<path d="M447.5,925 L504.6,931 L524,951 L447.5,942 Z" fill="url(#knurlB)"/>
<rect x="398" y="953" width="49.5" height="16.5" rx="5" fill="url(#knurl2)" stroke="#1a1a1a" stroke-width="1.5"/>
<rect x="353.8" y="833.2" width="269.4" height="50" rx="25" fill="#ededed" stroke="#0e0e0e" stroke-width="2.4"/>
<rect x="361.5" y="843.5" width="253.5" height="31" rx="15.5" fill="url(#slotg2)" stroke="#141414" stroke-width="2.6"/>
<path d="M377,844 Q364,845 363.5,859 Q364,871 378,874" fill="none" stroke="#1a1a1a" stroke-width="5"/>
<rect x="597.1" y="850.7" width="2.3" height="23.8" fill="#111"/>
<rect x="588.1" y="856.4" width="2.3" height="18.1" fill="#111"/>
<rect x="579.1" y="853.5" width="2.3" height="21.0" fill="#111"/>
<rect x="570.0" y="856.4" width="2.3" height="18.1" fill="#111"/>
<rect x="561.0" y="850.7" width="2.3" height="23.8" fill="#111"/>
<rect x="551.9" y="856.4" width="2.3" height="18.1" fill="#111"/>
<rect x="542.9" y="853.5" width="2.3" height="21.0" fill="#111"/>
<rect x="533.9" y="856.4" width="2.3" height="18.1" fill="#111"/>
<rect x="524.8" y="850.7" width="2.3" height="23.8" fill="#111"/>
<rect x="515.8" y="856.4" width="2.3" height="18.1" fill="#111"/>
<rect x="506.8" y="853.5" width="2.3" height="21.0" fill="#111"/>
<rect x="497.7" y="856.4" width="2.3" height="18.1" fill="#111"/>
<rect x="488.7" y="850.7" width="2.3" height="23.8" fill="#111"/>
<rect x="479.6" y="856.4" width="2.3" height="18.1" fill="#111"/>
<rect x="470.6" y="853.5" width="2.3" height="21.0" fill="#111"/>
<rect x="461.5" y="856.4" width="2.3" height="18.1" fill="#111"/>
<rect x="452.5" y="850.7" width="2.3" height="23.8" fill="#111"/>
<rect x="443.5" y="856.4" width="2.3" height="18.1" fill="#111"/>
<rect x="434.4" y="853.5" width="2.3" height="21.0" fill="#111"/>
<rect x="425.4" y="856.4" width="2.3" height="18.1" fill="#111"/>
<rect x="416.4" y="850.7" width="2.3" height="23.8" fill="#111"/>
<rect x="407.3" y="856.4" width="2.3" height="18.1" fill="#111"/>
<rect x="398.3" y="853.5" width="2.3" height="21.0" fill="#111"/>
<rect x="389.2" y="856.4" width="2.3" height="18.1" fill="#111"/>
<rect x="380.2" y="850.7" width="2.3" height="23.8" fill="#111"/>
<rect x="371.1" y="856.4" width="2.3" height="18.1" fill="#111"/>
<path d="M395,849 Q396,866 406,874 L402,874.5 Q393,868 392,850 Z" fill="#111"/>
<rect x="465" y="850.4" width="13" height="2.2" fill="#111"/>
<line x1="414" y1="190" x2="414" y2="306" stroke="#ffffff" stroke-opacity="0.85" stroke-width="4"/>
<circle cx="413.5" cy="306" r="5.9" fill="#ffffff" fill-opacity="0.85"/>
<line x1="414" y1="190" x2="414" y2="306" stroke="#141d38" stroke-width="1.7"/>
<circle cx="413.5" cy="306" r="4.4" fill="#2a55c8" stroke="#0c1d6a" stroke-width="1.3"/>
<line x1="715" y1="290" x2="715" y2="406" stroke="#ffffff" stroke-opacity="0.85" stroke-width="4"/>
<circle cx="715.2" cy="406.1" r="5.9" fill="#ffffff" fill-opacity="0.85"/>
<line x1="715" y1="290" x2="715" y2="406" stroke="#141d38" stroke-width="1.7"/>
<circle cx="715.2" cy="406.1" r="4.4" fill="#2a55c8" stroke="#0c1d6a" stroke-width="1.3"/>
<line x1="442.6" y1="458" x2="442.6" y2="573" stroke="#ffffff" stroke-opacity="0.85" stroke-width="4"/>
<circle cx="442.7" cy="457.7" r="6.1" fill="#ffffff" fill-opacity="0.85"/>
<line x1="442.6" y1="458" x2="442.6" y2="573" stroke="#141d38" stroke-width="1.7"/>
<circle cx="442.7" cy="457.7" r="4.6" fill="#2a55c8" stroke="#0c1d6a" stroke-width="1.3"/>
<line x1="66.8" y1="632.6" x2="66.8" y2="663.2" stroke="#17223a" stroke-width="1.8"/>
<line x1="66.8" y1="647.2" x2="449.3" y2="647.2" stroke="#17223a" stroke-width="1.7"/>
<line x1="614" y1="647.3" x2="974.4" y2="647.3" stroke="#17223a" stroke-width="1.7"/>
<line x1="974.4" y1="632.7" x2="974.4" y2="661.4" stroke="#17223a" stroke-width="1.8"/>
<line x1="963.7" y1="656.7" x2="989.8" y2="656.7" stroke="#17223a" stroke-width="1.7"/>
<line x1="977" y1="656.7" x2="977.4" y2="798.3" stroke="#17223a" stroke-width="1.7"/>
<line x1="977.4" y1="913.7" x2="977.4" y2="1041.4" stroke="#17223a" stroke-width="1.7"/>
<line x1="963.7" y1="1041.4" x2="989.4" y2="1041.4" stroke="#17223a" stroke-width="1.7"/>
<text transform="translate(980.3,812.1) rotate(90)" font-size="32" fill="#1b2b57" textLength="89" lengthAdjust="spacingAndGlyphs">64mm</text>
<line x1="325.1" y1="773.7" x2="325.1" y2="799.4" stroke="#17223a" stroke-width="1.7"/>
<line x1="325.1" y1="785.7" x2="443.7" y2="785.7" stroke="#17223a" stroke-width="1.7"/>
<line x1="541.4" y1="785.7" x2="647.4" y2="785.7" stroke="#17223a" stroke-width="1.7"/>
<line x1="647.4" y1="773.7" x2="647.4" y2="798.6" stroke="#17223a" stroke-width="1.7"/>
<line x1="63" y1="803" x2="88.2" y2="803" stroke="#17223a" stroke-width="1.6"/>
<line x1="63" y1="873" x2="88.2" y2="873" stroke="#17223a" stroke-width="1.6"/>
<line x1="73.8" y1="803" x2="73.8" y2="826.6" stroke="#17223a" stroke-width="1.6"/>
<line x1="73.8" y1="849.4" x2="73.8" y2="873" stroke="#17223a" stroke-width="1.6"/>
<text transform="translate(38.2,792.6) rotate(90)" font-size="31" fill="#1b2b57" textLength="89" lengthAdjust="spacingAndGlyphs">13mm</text>
</svg></body></html>
